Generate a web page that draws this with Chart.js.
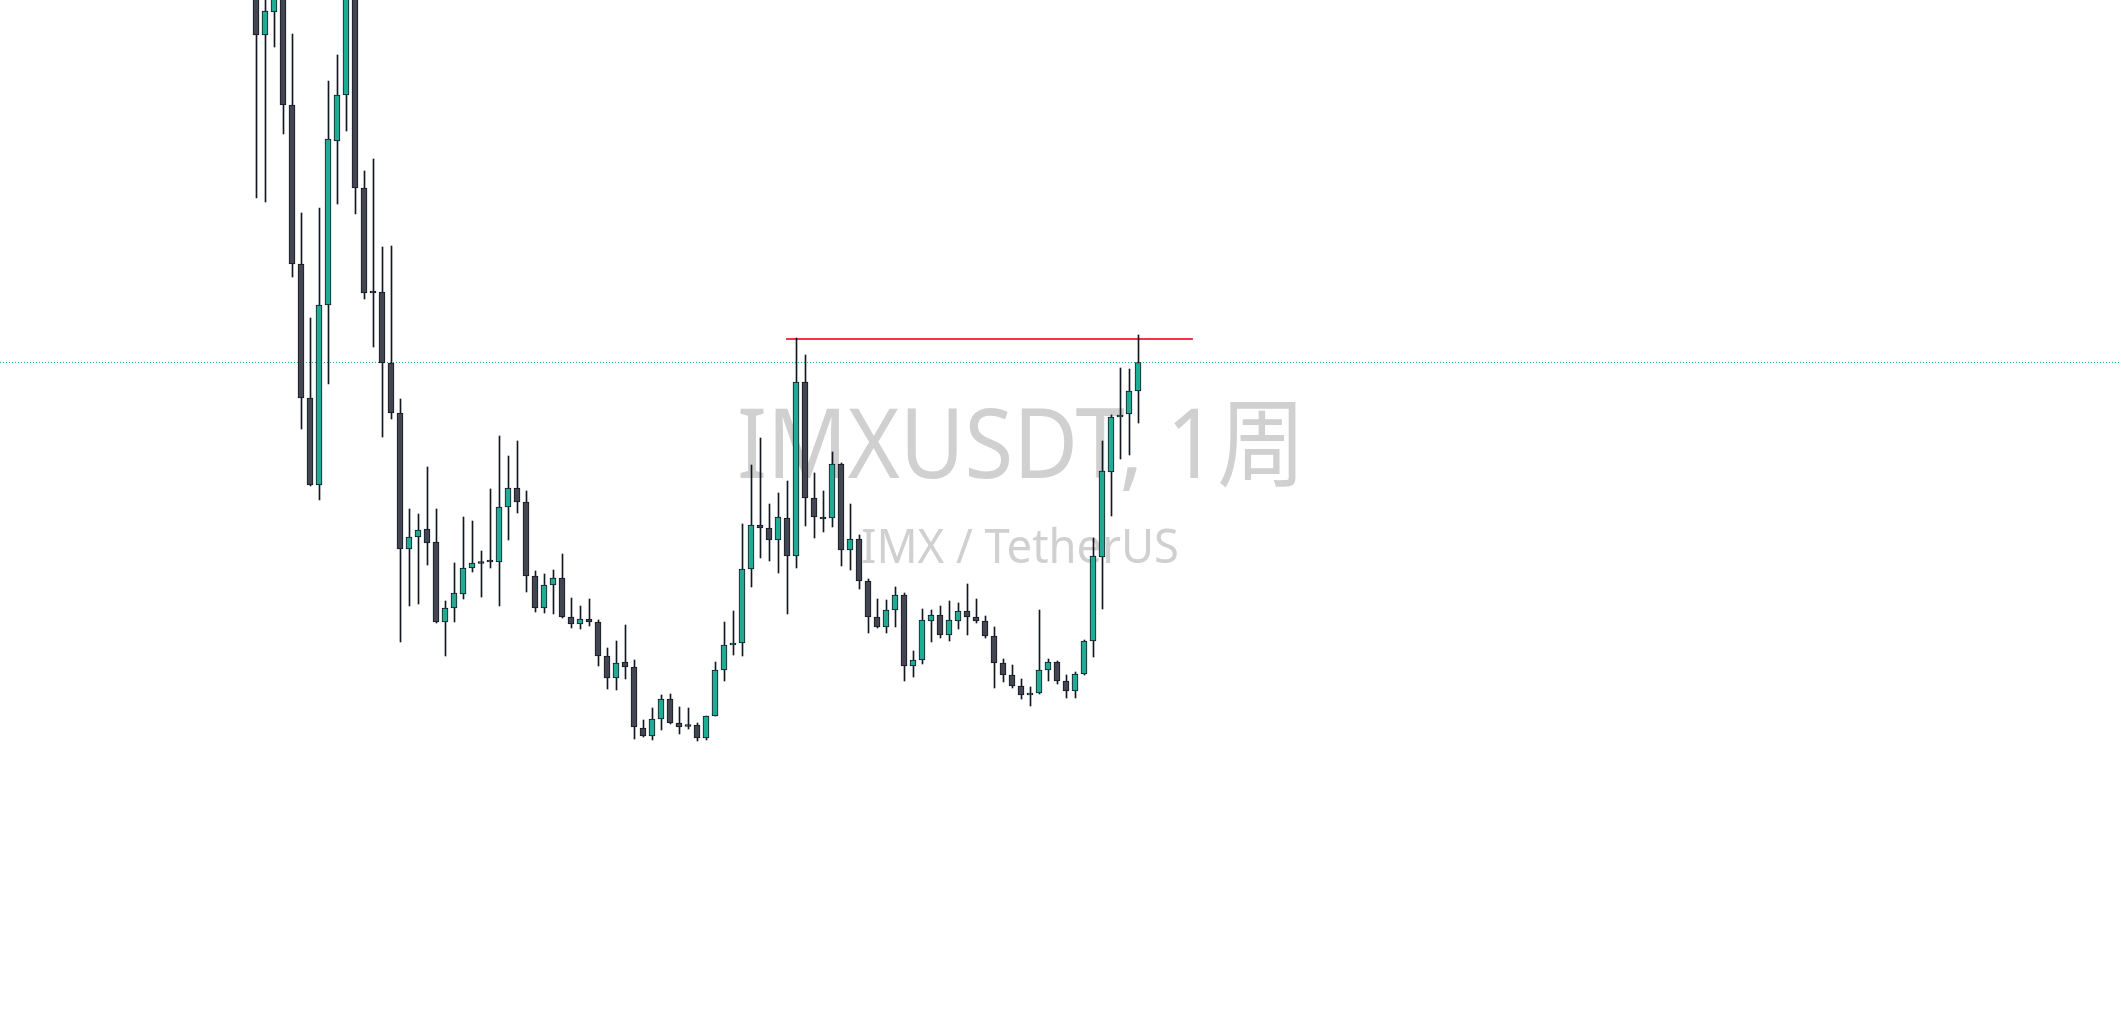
<!DOCTYPE html>
<html>
<head>
<meta charset="utf-8">
<script src="https://cdn.jsdelivr.net/npm/chart.js@4.4.1/dist/chart.umd.min.js"></script>
<style>
  html, body { margin: 0; padding: 0; background: #ffffff; }
  #wrap { width: 2121px; height: 1029px; }
</style>
</head>
<body>
<div id="wrap"><canvas id="c" width="2121" height="1029"></canvas></div>
<script>
// ---- data (IMXUSDT weekly candles) ----
const weeks = [];
(function () {
  const start = new Date(Date.UTC(2022, 0, 3));
  for (let i = 0; i < 99; i++) {
    const d = new Date(start.getTime() + i * 7 * 86400000);
    weeks.push(d.toISOString().slice(0, 10));
  }
})();

const open = [
  4.356, 3.976, 4.068, 4.196, 3.696, 3.060, 2.524, 2.176, 2.896, 3.552,
  3.736, 4.236, 3.364, 2.948, 2.948, 2.664, 2.464, 1.920, 1.968, 2.000,
  1.948, 1.628, 1.684, 1.740, 1.844, 1.864, 1.872, 1.868, 2.088, 2.164,
  2.108, 1.812, 1.684, 1.776, 1.804, 1.648, 1.620, 1.640, 1.628, 1.492,
  1.404, 1.468, 1.448, 1.204, 1.172, 1.240, 1.320, 1.224, 1.212, 1.216,
  1.164, 1.252, 1.436, 1.536, 1.544, 1.840, 2.016, 2.004, 1.956, 2.044,
  1.892, 2.588, 2.124, 2.048, 2.044, 2.260, 1.916, 1.960, 1.792, 1.648,
  1.608, 1.676, 1.736, 1.452, 1.476, 1.632, 1.656, 1.576, 1.632, 1.672,
  1.648, 1.632, 1.572, 1.464, 1.416, 1.372, 1.336, 1.344, 1.436, 1.468,
  1.392, 1.352, 1.420, 1.552, 1.888, 2.228, 2.448, 2.460, 2.552
];
const high = [
  4.436, 4.176, 4.276, 4.236, 3.980, 3.264, 2.844, 3.284, 3.792, 3.896,
  4.316, 4.296, 3.432, 3.480, 3.128, 3.132, 2.520, 2.080, 2.060, 2.248,
  2.080, 1.712, 1.864, 2.048, 2.032, 1.912, 2.160, 2.372, 2.292, 2.352,
  2.152, 1.832, 1.820, 1.836, 1.900, 1.724, 1.692, 1.720, 1.636, 1.524,
  1.552, 1.616, 1.476, 1.236, 1.284, 1.336, 1.340, 1.288, 1.284, 1.224,
  1.252, 1.468, 1.628, 1.672, 2.020, 2.256, 2.364, 2.100, 2.144, 2.192,
  2.764, 2.696, 2.224, 2.152, 2.308, 2.264, 2.100, 1.976, 1.800, 1.720,
  1.716, 1.768, 1.744, 1.512, 1.680, 1.676, 1.692, 1.712, 1.704, 1.780,
  1.720, 1.652, 1.608, 1.480, 1.456, 1.400, 1.368, 1.676, 1.480, 1.472,
  1.416, 1.428, 1.556, 1.964, 2.352, 2.456, 2.644, 2.640, 2.776
];
const low = [
  3.324, 3.308, 3.928, 3.580, 3.008, 2.400, 2.172, 2.116, 2.580, 3.300,
  3.592, 3.260, 2.920, 2.728, 2.368, 2.440, 1.548, 1.692, 1.700, 1.856,
  1.624, 1.492, 1.628, 1.720, 1.828, 1.728, 1.844, 1.692, 1.956, 2.064,
  1.748, 1.668, 1.664, 1.660, 1.644, 1.604, 1.600, 1.612, 1.452, 1.360,
  1.356, 1.400, 1.160, 1.168, 1.156, 1.196, 1.220, 1.180, 1.200, 1.152,
  1.156, 1.252, 1.392, 1.496, 1.492, 1.768, 1.884, 1.872, 1.824, 1.660,
  1.844, 2.012, 1.964, 1.988, 2.008, 1.852, 1.836, 1.760, 1.584, 1.604,
  1.584, 1.608, 1.392, 1.408, 1.460, 1.548, 1.564, 1.552, 1.600, 1.576,
  1.624, 1.564, 1.364, 1.388, 1.364, 1.320, 1.292, 1.340, 1.392, 1.380,
  1.324, 1.324, 1.416, 1.488, 1.680, 2.052, 2.280, 2.296, 2.424
];
const close = [
  3.976, 4.072, 4.196, 3.696, 3.060, 2.524, 2.176, 2.896, 3.560, 3.736,
  4.236, 3.364, 2.944, 2.944, 2.664, 2.464, 1.920, 1.968, 1.996, 1.944,
  1.628, 1.684, 1.744, 1.844, 1.864, 1.862, 1.868, 2.088, 2.164, 2.108,
  1.812, 1.684, 1.776, 1.804, 1.648, 1.620, 1.640, 1.628, 1.492, 1.404,
  1.464, 1.448, 1.208, 1.172, 1.240, 1.320, 1.224, 1.208, 1.210, 1.164,
  1.252, 1.436, 1.536, 1.544, 1.840, 2.016, 2.004, 1.956, 2.048, 1.892,
  2.588, 2.124, 2.048, 2.040, 2.260, 1.916, 1.960, 1.792, 1.648, 1.608,
  1.676, 1.736, 1.452, 1.476, 1.636, 1.656, 1.576, 1.636, 1.672, 1.648,
  1.632, 1.572, 1.464, 1.416, 1.372, 1.336, 1.344, 1.436, 1.468, 1.392,
  1.352, 1.420, 1.552, 1.892, 2.232, 2.448, 2.456, 2.552, 2.666
];
// resistance drawn from the earlier swing high, spanning these week positions
const resistanceLevel = [2.760];
const resistanceSpan = [58.9, 104.1];
const titleText = 'IMXUSDT, 1周';
const subtitleText = 'IMX / TetherUS';

// ---- styling / layout ----
const W = 2121, H = 1029;
const PX_PER_BAR = 9;          // horizontal spacing of candles
const FIRST_BAR_PX = 256;      // pixel centre of first candle
const X_MIN = -FIRST_BAR_PX / PX_PER_BAR;
const X_MAX = X_MIN + W / PX_PER_BAR;
const Y_MIN = 0, Y_MAX = 4.116;
const UP = '#22ab94', DOWN = '#434651', EDGE = '#131722';
const WICK_NUDGE = 0.5 / PX_PER_BAR;  // put 1px wick on a whole pixel column

const upFlags = close.map((c, i) => c >= open[i]);

const bodies = open.map((o, i) => ({ x: i, y: [o, close[i]] }));
const wicks = low.map((l, i) => ({ x: i + WICK_NUDGE, y: [l, high[i]] }));
const lastClose = close[close.length - 1];

function fitText(ctx, text, font, left, right, baseline) {
  ctx.font = font;
  const w = ctx.measureText(text).width;
  const target = right - left;
  ctx.save();
  ctx.translate(left, baseline);
  ctx.scale(target / w, 1);
  ctx.textAlign = 'left';
  ctx.fillText(text, 0, 0);
  ctx.restore();
}

const watermark = {
  id: 'watermark',
  beforeDatasetsDraw(chart) {
    const ctx = chart.ctx;
    ctx.save();
    ctx.fillStyle = '#d0d0d0';
    ctx.textBaseline = 'alphabetic';
    fitText(ctx, titleText, '96px "Noto Sans", "Noto Sans CJK SC", sans-serif', 737, 1306, 478);
    fitText(ctx, subtitleText, '48px "Noto Sans", sans-serif', 861, 1179, 563);
    ctx.restore();
  }
};

new Chart(document.getElementById('c'), {
  type: 'bar',
  data: {
    labels: weeks,
    datasets: [
      {
        label: 'body',
        data: bodies,
        grouped: false,
        barThickness: 6,
        minBarLength: 2,
        backgroundColor: upFlags.map(u => u ? UP : DOWN),
        borderColor: EDGE,
        borderWidth: 1,
        borderSkipped: false
      },
      {
        label: 'wick',
        data: wicks,
        grouped: false,
        barThickness: 1,
        backgroundColor: EDGE,
        borderWidth: 0
      },
      {
        type: 'line',
        label: 'resistance',
        data: [
          { x: resistanceSpan[0], y: resistanceLevel[0] },
          { x: resistanceSpan[1], y: resistanceLevel[0] }
        ],
        borderColor: '#f23645',
        borderWidth: 2,
        pointRadius: 0,
        fill: false
      },
      {
        type: 'line',
        label: 'last price',
        data: [
          { x: X_MIN, y: lastClose },
          { x: X_MAX, y: lastClose }
        ],
        borderColor: '#22ab94',
        borderWidth: 1,
        borderDash: [1, 2],
        pointRadius: 0,
        fill: false
      }
    ]
  },
  options: {
    responsive: false,
    animation: false,
    devicePixelRatio: 1,
    layout: { padding: 0 },
    plugins: { legend: { display: false }, tooltip: { enabled: false }, title: { display: false } },
    scales: {
      x: { type: 'linear', display: false, min: X_MIN, max: X_MAX, offset: false },
      y: { type: 'linear', display: false, min: Y_MIN, max: Y_MAX }
    }
  },
  plugins: [watermark]
});
</script>
</body>
</html>
